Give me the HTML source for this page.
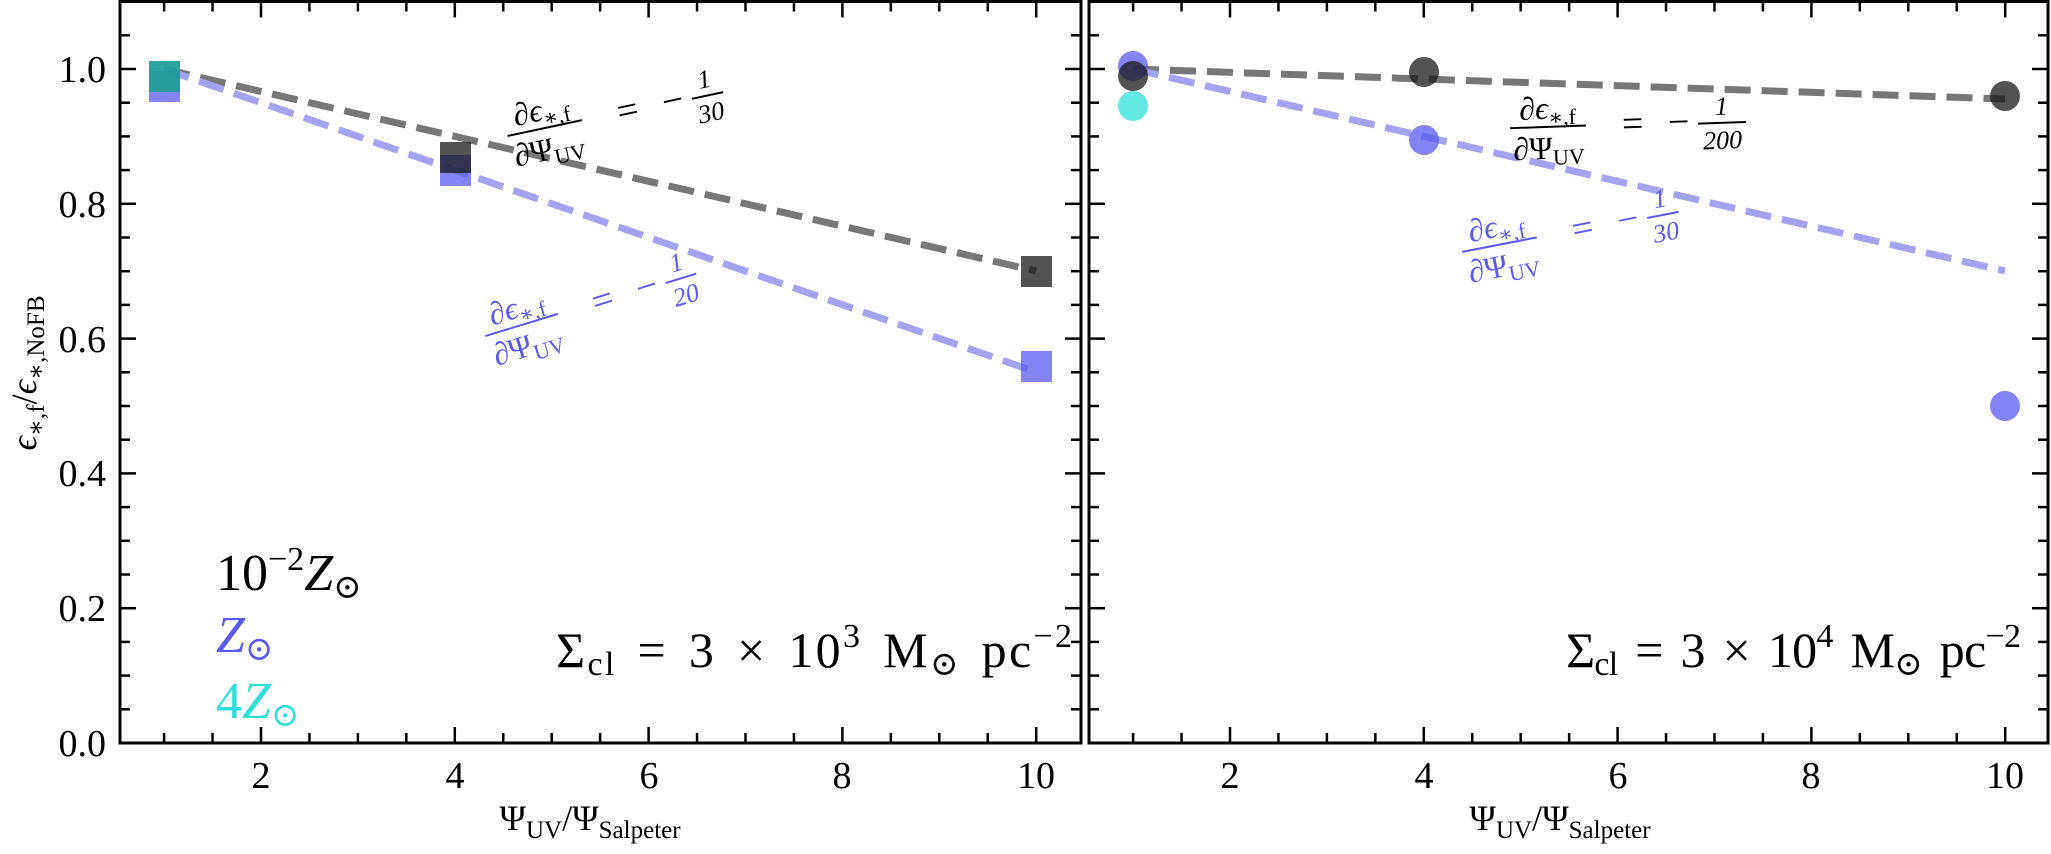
<!DOCTYPE html>
<html><head><meta charset="utf-8"><style>
html,body{margin:0;padding:0;background:#fff}
</style></head><body>
<svg id="s" width="2051" height="849" viewBox="0 0 2051 849" xmlns="http://www.w3.org/2000/svg" font-family="'Liberation Serif','DejaVu Serif',serif">
<g id="ticks" stroke="#000" stroke-width="2.5"></g>
<rect x="120" y="1.5" width="961" height="741.5" fill="none" stroke="#000" stroke-width="3"/>
<rect x="1089" y="1.5" width="959" height="741.5" fill="none" stroke="#000" stroke-width="3"/>

<line x1="164" y1="69" x2="1036" y2="271" stroke="#777" stroke-width="7" stroke-dasharray="26,11"/>
<line x1="164" y1="69" x2="1036" y2="372" stroke="#a3a3f2" stroke-width="7" stroke-dasharray="26,11"/>
<g fill-opacity="0.75">
<rect x="149" y="71" width="31" height="31" fill="#5a5af0"/>
<rect x="440" y="155" width="31" height="31" fill="#5a5af0"/>
<rect x="1021" y="351" width="31" height="31" fill="#5a5af0"/>
<rect x="149" y="61" width="31" height="31" fill="#1a1a1a"/>
<rect x="440" y="142" width="31" height="31" fill="#1a1a1a"/>
<rect x="1021" y="256" width="31" height="31" fill="#1a1a1a"/>
<rect x="149" y="61" width="31" height="31" fill="#20c0b8"/>
</g>

<line x1="1133" y1="69" x2="2005" y2="99" stroke="#777" stroke-width="7" stroke-dasharray="26,11"/>
<line x1="1133" y1="69" x2="2005" y2="271" stroke="#a3a3f2" stroke-width="7" stroke-dasharray="26,11"/>
<g fill-opacity="0.75">
<circle cx="1133" cy="66" r="15" fill="#5a5af0"/>
<circle cx="1424" cy="140" r="15" fill="#5a5af0"/>
<circle cx="2005" cy="406" r="15" fill="#5a5af0"/>
<circle cx="1133" cy="76" r="15" fill="#1a1a1a"/>
<circle cx="1424" cy="72" r="15" fill="#1a1a1a"/>
<circle cx="2005" cy="96" r="15" fill="#1a1a1a"/>
<circle cx="1133" cy="106" r="15" fill="#30e0d8"/>
</g>

<g font-size="38" text-anchor="end">
<text x="106" y="82">1.0</text>
<text x="106" y="217">0.8</text>
<text x="106" y="352">0.6</text>
<text x="106" y="486">0.4</text>
<text x="106" y="621">0.2</text>
<text x="106" y="756">0.0</text>
</g>
<g font-size="38" text-anchor="middle">
<text x="261" y="788">2</text><text x="455" y="788">4</text><text x="649" y="788">6</text><text x="842" y="788">8</text><text x="1036" y="788">10</text>
<text x="1230" y="788">2</text><text x="1424" y="788">4</text><text x="1618" y="788">6</text><text x="1811" y="788">8</text><text x="2005" y="788">10</text>
</g>
<g font-size="36" text-anchor="middle">
<text x="590" y="830">Ψ<tspan font-size="25" dy="8">UV</tspan><tspan dy="-8">/Ψ</tspan><tspan font-size="25" dy="8">Salpeter</tspan></text>
<text x="1560" y="830">Ψ<tspan font-size="25" dy="8">UV</tspan><tspan dy="-8">/Ψ</tspan><tspan font-size="25" dy="8">Salpeter</tspan></text>
<text transform="translate(36,373) rotate(-90)"><tspan font-style="italic">ϵ</tspan><tspan font-size="25" dy="8">∗,f</tspan><tspan dy="-8">/</tspan><tspan font-style="italic">ϵ</tspan><tspan font-size="25" dy="8">∗,NoFB</tspan></text>
</g>

<g font-size="52">
<text x="216" y="590">10<tspan font-size="34" dy="-20">−2</tspan><tspan dy="20" font-style="italic">Z</tspan><tspan font-size="34" dy="8">⊙</tspan></text>
<text x="216" y="652" fill="#5a5af0" font-style="italic">Z<tspan font-size="34" dy="8" font-style="normal">⊙</tspan></text>
<text x="216" y="718" fill="#30e0d8">4<tspan font-style="italic">Z</tspan><tspan font-size="34" dy="8">⊙</tspan></text>
</g>
<g font-size="50" word-spacing="6">
<text x="556" y="667" textLength="516">Σ<tspan font-size="34" dy="8">cl</tspan><tspan dy="-8"> = 3 × 10</tspan><tspan font-size="34" dy="-20">3</tspan><tspan dy="20"> M</tspan><tspan font-size="34" dy="8">⊙</tspan><tspan dy="-8"> pc</tspan><tspan font-size="34" dy="-20">−2</tspan></text>
<text x="1566" y="667" textLength="455">Σ<tspan font-size="34" dy="8">cl</tspan><tspan dy="-8"> = 3 × 10</tspan><tspan font-size="34" dy="-20">4</tspan><tspan dy="20"> M</tspan><tspan font-size="34" dy="8">⊙</tspan><tspan dy="-8"> pc</tspan><tspan font-size="34" dy="-20">−2</tspan></text>
</g>

<defs>
<g id="fr">
<text x="-82" y="-8" font-size="32" text-anchor="middle"><tspan font-style="italic">∂ϵ</tspan><tspan font-size="22" dy="6">∗,f</tspan></text>
<line x1="-120" y1="0" x2="-44" y2="0" stroke="currentColor" stroke-width="2"/>
<text x="-82" y="32" font-size="32" text-anchor="middle"><tspan font-style="italic">∂</tspan>Ψ<tspan font-size="22" dy="6">UV</tspan></text>
<text x="-8" y="12" font-size="38">=</text>
<text x="38" y="12" font-size="38">−</text>
</g>
</defs>
<g transform="translate(625,111) rotate(-12)" fill="#000" color="#000">
<use href="#fr"/>
<text x="84" y="-6" font-size="26" font-style="italic" text-anchor="middle">1</text>
<line x1="68" y1="2" x2="100" y2="2" stroke="#000" stroke-width="2"/>
<text x="84" y="28" font-size="26" font-style="italic" text-anchor="middle">30</text>
</g>
<g transform="translate(600,301) rotate(-17)" fill="#5a5af0" color="#5a5af0">
<use href="#fr"/>
<text x="84" y="-6" font-size="26" font-style="italic" text-anchor="middle">1</text>
<line x1="68" y1="2" x2="100" y2="2" stroke="#5a5af0" stroke-width="2"/>
<text x="84" y="28" font-size="26" font-style="italic" text-anchor="middle">20</text>
</g>
<g transform="translate(1630,124) rotate(-2)" fill="#000" color="#000">
<use href="#fr"/>
<text x="92" y="-6" font-size="26" font-style="italic" text-anchor="middle">1</text>
<line x1="68" y1="2" x2="116" y2="2" stroke="#000" stroke-width="2"/>
<text x="92" y="28" font-size="26" font-style="italic" text-anchor="middle">200</text>
</g>
<g transform="translate(1580,229) rotate(-11)" fill="#5a5af0" color="#5a5af0">
<use href="#fr"/>
<text x="84" y="-6" font-size="26" font-style="italic" text-anchor="middle">1</text>
<line x1="68" y1="2" x2="100" y2="2" stroke="#5a5af0" stroke-width="2"/>
<text x="84" y="28" font-size="26" font-style="italic" text-anchor="middle">30</text>
</g>
</svg>
<script>
(function(){
var g=document.getElementById('ticks'),s='';
function L(a,b,c,d){s+='<line x1="'+a+'" y1="'+b+'" x2="'+c+'" y2="'+d+'"/>';}
[[120,1081],[1089,2048]].forEach(function(p){
 var x0=p[0],x1=p[1];
 for(var v=1;v<=10.01;v+=0.5){
  var x=x0+(v-0.545)*96.9, maj=(Math.abs(v%2)<0.01);
  var len=maj?16:10; L(x,743,x,743-len); L(x,1.5,x,1.5+len);
 }
 for(var k=0;k<=22;k++){
  var y=743-k*33.7, maj=(k%4==0), len=maj?16:10;
  L(x0,y,x0+len,y); L(x1,y,x1-len,y);
 }
});
g.innerHTML=s;
})();
</script>
</body></html>
